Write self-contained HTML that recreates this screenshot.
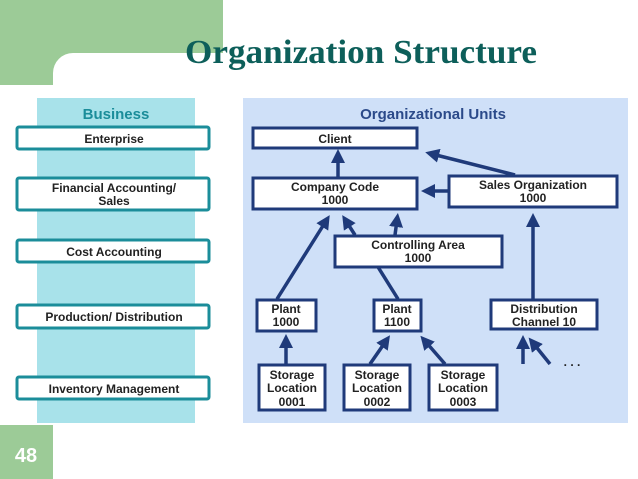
<html><body style="margin:0;width:638px;height:479px;overflow:hidden;background:#fff">
<svg width="638" height="479" xmlns="http://www.w3.org/2000/svg" font-family="Liberation Sans, sans-serif" font-weight="bold">
<defs><marker id="a" markerWidth="4" markerHeight="4" refX="2" refY="2" orient="auto"><path d="M0,0L4,2L0,4z" fill="#1f3a7a"/></marker></defs>
<rect x="0" y="0" width="223" height="85" fill="#9ccb97"/>
<path d="M53,85V73a20,20 0 0 1 20,-20H223V85z" fill="#fff"/>
<text x="361" y="63" text-anchor="middle" font-family="Liberation Serif, serif" font-size="34" fill="#0d5f5a" textLength="352" lengthAdjust="spacingAndGlyphs">Organization Structure</text>
<rect x="37" y="98" width="158" height="325" fill="#a8e2ea"/>
<text x="116" y="119" text-anchor="middle" font-size="15" fill="#1b8d9a">Business</text>
<g fill="#fff" stroke="#1b8d9a" stroke-width="3">
<rect x="17" y="127" width="192" height="22" rx="2"/><rect x="17" y="178" width="192" height="32" rx="2"/><rect x="17" y="240" width="192" height="22" rx="2"/><rect x="17" y="305" width="192" height="23" rx="2"/><rect x="17" y="377" width="192" height="22" rx="2"/></g>
<g font-size="12" text-anchor="middle" fill="#222">
<text x="114" y="143">Enterprise</text><text x="114" y="192">Financial Accounting/</text><text x="114" y="205">Sales</text><text x="114" y="256">Cost Accounting</text><text x="114" y="321">Production/ Distribution</text><text x="114" y="393">Inventory Management</text></g>
<rect x="0" y="425" width="53" height="54" fill="#9ccb97"/>
<text x="26" y="462" text-anchor="middle" font-size="20" fill="#fff">48</text>
<rect x="243" y="98" width="385" height="325" fill="#cfe0f8"/>
<text x="433" y="119" text-anchor="middle" font-size="15" fill="#2b4a8a">Organizational Units</text>
<g fill="#fff" stroke="#1f3a7a" stroke-width="3">
<rect x="253" y="128" width="164" height="20"/><rect x="253" y="178" width="164" height="31"/><rect x="449" y="176" width="168" height="31"/><rect x="335" y="236" width="167" height="31"/><rect x="257" y="300" width="59" height="31"/><rect x="374" y="300" width="47" height="31"/><rect x="491" y="300" width="106" height="29"/><rect x="259" y="365" width="66" height="45"/><rect x="344" y="365" width="66" height="45"/><rect x="429" y="365" width="68" height="45"/></g>
<g font-size="12" text-anchor="middle" fill="#222">
<text x="335" y="143">Client</text>
<text x="335" y="191">Company Code</text><text x="335" y="204">1000</text>
<text x="533" y="189">Sales Organization</text><text x="533" y="202">1000</text>
<text x="418" y="249">Controlling Area</text><text x="418" y="262">1000</text>
<text x="286" y="313">Plant</text><text x="286" y="326">1000</text>
<text x="397" y="313">Plant</text><text x="397" y="326">1100</text>
<text x="544" y="313">Distribution</text><text x="544" y="326">Channel 10</text>
<text x="292" y="379">Storage</text><text x="292" y="392">Location</text><text x="292" y="406">0001</text>
<text x="377" y="379">Storage</text><text x="377" y="392">Location</text><text x="377" y="406">0002</text>
<text x="463" y="379">Storage</text><text x="463" y="392">Location</text><text x="463" y="406">0003</text>
<text x="572" y="366">. . .</text></g>
<g stroke="#1f3a7a" stroke-width="3.5" marker-end="url(#a)">
<line x1="338" y1="177" x2="338" y2="156"/>
<line x1="515" y1="175" x2="432" y2="154"/>
<line x1="448" y1="191" x2="428" y2="191"/>
<line x1="277" y1="299" x2="326" y2="221"/>
<line x1="355" y1="235" x2="346" y2="221"/>
<line x1="395" y1="235" x2="397" y2="220"/>
<line x1="533" y1="299" x2="533" y2="220"/>
<line x1="286" y1="364" x2="286" y2="341"/>
<line x1="370" y1="364" x2="386" y2="341"/>
<line x1="445" y1="364" x2="425" y2="341"/>
<line x1="523" y1="364" x2="523" y2="342"/>
<line x1="550" y1="364" x2="533" y2="343"/>
</g>
<line x1="398" y1="299" x2="378" y2="267" stroke="#1f3a7a" stroke-width="3.5"/>
</svg></body></html>
